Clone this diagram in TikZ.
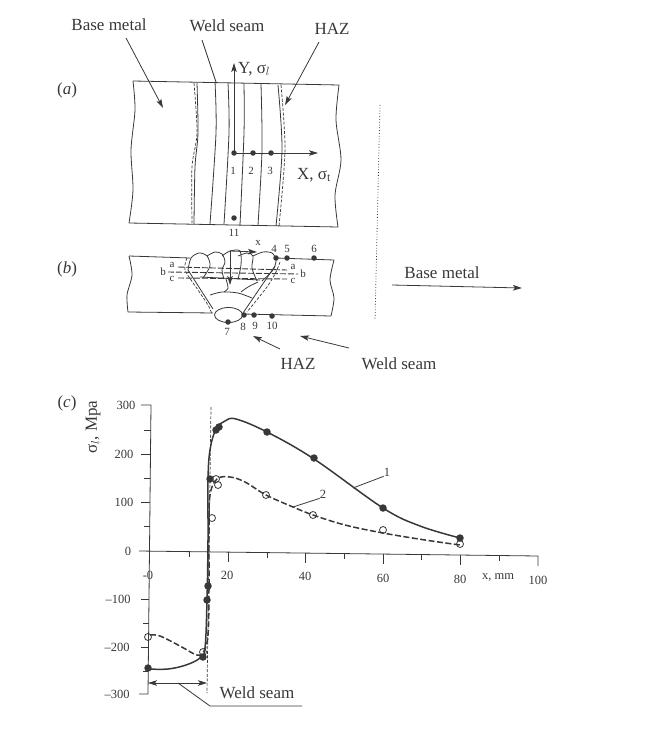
\documentclass[tikz,border=0pt]{standalone}
\usepackage{fontspec}
\setmainfont{Liberation Serif}
\usetikzlibrary{arrows.meta}
\definecolor{ink}{gray}{0.22}
\tikzstyle{arrow} = [-{Stealth[length=9pt,width=5.5pt,inset=2pt]},ink,line width=0.8pt]
\tikzstyle{bigtext} = [ink,inner sep=0pt,font=\fontsize{17}{19}\selectfont]
\tikzstyle{ticktext} = [ink,inner sep=0pt,font=\fontsize{12.5}{14}\selectfont]
\tikzstyle{smalltext} = [ink,inner sep=0pt,font=\fontsize{11}{12}\selectfont]
\tikzstyle{plate} = [ink,line width=0.8pt]
\tikzstyle{hazline} = [ink,line width=0.7pt,dash pattern=on 3pt off 1.6pt]
\tikzstyle{cutline} = [ink,line width=0.9pt,dash pattern=on 6pt off 2pt]
\tikzstyle{dot} = [circle,fill=ink,inner sep=0pt,minimum size=5.5pt]
\tikzstyle{bigdot} = [circle,fill=ink,inner sep=0pt,minimum size=7.5pt]
\tikzstyle{opendot} = [circle,draw=ink,fill=none,line width=0.8pt,inner sep=0pt,minimum size=7pt]
\tikzstyle{curve} = [ink,line width=1.5pt,smooth,tension=0.6]
\newcommand{\tickshort}{5}
\newcommand{\ticklong}{10}

\begin{document}
\begin{tikzpicture}[x=1pt,y=-1pt]
  \useasboundingbox (0,0) rectangle (645,749);

  % Panel labels
  \node [bigtext] (panelA) at (67,90)  {(\textit{a})};
  \node [bigtext] (panelB) at (67,269) {(\textit{b})};
  \node [bigtext] (panelC) at (67,403) {(\textit{c})};

  % Plate (a)
  \draw [plate] (133,81) -- (339,85);
  \draw [plate] (129,223) -- (338,227);
  \draw [plate] plot [smooth] coordinates {(133,81) (135,110) (131,150) (133,190) (129,223)};
  \draw [plate] plot [smooth] coordinates {(339,85) (336,120) (341,160) (335,195) (338,227)};

  % Passes
  \draw [hazline] plot [smooth] coordinates {(194,83) (197,133) (192,167) (192,223)};
  \draw [plate] plot [smooth] coordinates {(197,83) (198,133) (195,167) (194,224)};
  \draw [plate] plot [smooth] coordinates {(215,82) (216,133) (210,224)};
  \draw [plate] plot [smooth] coordinates {(228,83) (229,133) (224,224)};
  \draw [plate] plot [smooth] coordinates {(244,84) (244,133) (240,225)};
  \draw [plate] plot [smooth] coordinates {(261,84) (262,150) (258,225)};
  \draw [plate] plot [smooth] coordinates {(278,85) (282,150) (276,226)};
  \draw [hazline] plot [smooth] coordinates {(281,85) (285,150) (279,226)};

  % Axes of (a)
  \node [dot] (pt1) at (234,153) {};
  \node [dot] (pt2) at (253,153) {};
  \node [dot] (pt3) at (271,153) {};
  \node [dot] (pt11) at (234,218) {};
  \coordinate (yEnd) at (234,63);
  \coordinate (xEnd) at (318,153);
  \draw [arrow] (pt1.center) -- (yEnd);
  \draw [arrow] (pt1.center) -- (xEnd);
  \node [bigtext, anchor=west] (yLabel) at (238,69) {Y, σ$_{l}$};
  \node [bigtext, anchor=west] (xLabel) at (297,175) {X, σ$_{\mathrm{t}}$};
  \node [smalltext] (lab1) at (233,171) {1};
  \node [smalltext] (lab2) at (251,171) {2};
  \node [smalltext] (lab3) at (270,171) {3};
  \node [smalltext] (lab11) at (234,233) {11};

  % Top captions
  \node [bigtext] (baseTop) at (109,25) {Base metal};
  \node [bigtext] (weldTop) at (227,26) {Weld seam};
  \node [bigtext] (hazTop) at (332,29) {HAZ};
  \coordinate (baseTopTail) at (126,38);
  \coordinate (baseTopHead) at (163,108);
  \coordinate (weldTopTail) at (202,40);
  \coordinate (weldTopHead) at (216,82);
  \coordinate (hazTopTail) at (319,42);
  \coordinate (hazTopHead) at (285,105);
  \draw [arrow] (baseTopTail) -- (baseTopHead);
  \draw [plate] (weldTopTail) -- (weldTopHead);
  \draw [arrow] (hazTopTail) -- (hazTopHead);

  % Plate (b)
  \draw [plate] (129,256) -- (190,258);
  \draw [plate] (276,258) -- (334,260);
  \draw [plate] (128,312) -- (213,313);
  \draw [plate] (243,314) -- (331,316);
  \draw [plate] plot [smooth] coordinates {(129,256) (132,275) (127,295) (128,312)};
  \draw [plate] plot [smooth] coordinates {(334,260) (330,280) (334,298) (331,316)};

  % Beads
  \draw [plate] plot [smooth] coordinates {(188,270) (191,258) (199,253) (207,256) (210,266) (203,278)};
  \draw [plate] plot [smooth] coordinates {(207,256) (215,252) (222,254) (225,262) (222,270) (224,279)};
  \draw [plate] plot [smooth] coordinates {(222,256) (230,251) (240,251) (241,265) (238,279)};
  \draw [plate] plot [smooth] coordinates {(238,256) (247,253) (253,256) (252,268) (257,281)};
  \draw [plate] plot [smooth] coordinates {(253,256) (263,252) (272,253) (276,260) (273,270) (262,281)};
  \draw [plate] (188,270) -- (213,309);
  \draw [plate] (275,266) -- (243,313);
  \draw [plate] (200,277) -- (260,280);
  \draw [plate] plot [smooth] coordinates {(210,295) (222,292) (238,293) (252,298)};
  \draw [plate] plot [smooth] coordinates {(226,279) (228,288) (224,292)};
  \draw [plate] plot [smooth] coordinates {(241,292) (248,287) (258,282)};
  \draw [plate] (228.5,315) ellipse (14 and 7.5);
  \draw [hazline] plot [smooth] coordinates {(187,258) (185,270) (198,290) (208,305) (212,314)};
  \draw [hazline] plot [smooth] coordinates {(280,262) (276,272) (267,287) (247,312)};

  % Section lines
  \draw [cutline] (178,267) -- (287,270);
  \draw [cutline] (168,272) -- (298,274);
  \draw [cutline] (178,278) -- (287,279);
  \node [smalltext] (bLeft) at (163,272) {b};
  \node [smalltext] (aLeft) at (172,265) {a};
  \node [smalltext] (cLeft) at (172,279) {c};
  \node [smalltext] (aRight) at (293,267) {a};
  \node [smalltext] (cRight) at (293,281) {c};
  \node [smalltext] (bRight) at (303,274) {b};

  % Axes of (b)
  \coordinate (seamTop) at (230,251);
  \coordinate (seamBottom) at (230,285);
  \coordinate (xbEnd) at (257,252);
  \draw [arrow] (seamTop) -- (seamBottom);
  \draw [arrow] (seamTop) -- (xbEnd);
  \node [smalltext] (xbLabel) at (258,243) {x};

  % Points of (b)
  \node [dot] (pt4) at (276,258) {};
  \node [dot] (pt5) at (287,258) {};
  \node [dot] (pt6) at (314,258) {};
  \node [dot] (pt7) at (228,322) {};
  \node [dot] (pt8) at (244,315) {};
  \node [dot] (pt9) at (254,315) {};
  \node [dot] (pt10) at (272,316) {};
  \node [smalltext] (lab4) at (274,249) {4};
  \node [smalltext] (lab5) at (287,249) {5};
  \node [smalltext] (lab6) at (314,249) {6};
  \node [smalltext] (lab7) at (227,332) {7};
  \node [smalltext] (lab8) at (243,327) {8};
  \node [smalltext] (lab9) at (255,326) {9};
  \node [smalltext] (lab10) at (272,326) {10};

  % Captions of (b)
  \node [bigtext] (hazLow) at (298,364) {HAZ};
  \node [bigtext] (weldLow) at (399,364) {Weld seam};
  \node [bigtext] (baseRight) at (442,273) {Base metal};
  \coordinate (hazLowTail) at (280,349);
  \coordinate (hazLowHead) at (253,336);
  \coordinate (weldLowTail) at (349,348);
  \coordinate (weldLowHead) at (300,336);
  \coordinate (baseRightTail) at (392,285);
  \coordinate (baseRightHead) at (522,288);
  \draw [arrow] (hazLowTail) -- (hazLowHead);
  \draw [arrow] (weldLowTail) -- (weldLowHead);
  \draw [arrow] (baseRightTail) -- (baseRightHead);

  % Divider
  \coordinate (divTop) at (380,105);
  \coordinate (divBottom) at (375,320);
  \draw [ink, line width=0.8pt, dotted] (divTop) -- (divBottom);

  % Axes of (c)
  \draw [plate] (141,405) -- (151,405) -- (148,694) -- (139,694);
  \draw [plate] (139,551) -- (538,556) -- (538,566);
  \draw [plate] (144,430) -- (151,430);
  \draw [plate] (141,454) -- (151,454);
  \draw [plate] (144,478) -- (150,478);
  \draw [plate] (141,502) -- (150,502);
  \draw [plate] (144,526) -- (150,526);
  \draw [plate] (141,599) -- (149,599);
  \draw [plate] (143,623) -- (149,623);
  \draw [plate] (141,647) -- (149,647);
  \draw [plate] (143,671) -- (148,671);
  \draw [plate] (189,552) -- ++(0,\tickshort);
  \draw [plate] (228,552) -- ++(0,\ticklong);
  \draw [plate] (267,553) -- ++(0,\tickshort);
  \draw [plate] (305,553) -- ++(0,\ticklong);
  \draw [plate] (344,554) -- ++(0,\tickshort);
  \draw [plate] (383,554) -- ++(0,\ticklong);
  \draw [plate] (421,555) -- ++(0,\tickshort);
  \draw [plate] (460,555) -- ++(0,\ticklong);
  \draw [plate] (499,556) -- ++(0,\tickshort);

  % Tick labels
  \node [ticktext] (y300) at (126,405) {300};
  \node [ticktext] (y200) at (124,454) {200};
  \node [ticktext] (y100) at (124,502) {100};
  \node [ticktext] (y0) at (128,551) {0};
  \node [ticktext] (yM100) at (118,599) {–100};
  \node [ticktext] (yM200) at (117,647) {–200};
  \node [ticktext] (yM300) at (117,694) {–300};
  \node [ticktext] (x0) at (148,575) {-0};
  \node [ticktext] (x20) at (227,575) {20};
  \node [ticktext] (x40) at (305,576) {40};
  \node [ticktext] (x60) at (383,578) {60};
  \node [ticktext] (x80) at (460,579) {80};
  \node [ticktext] (xUnit) at (498,578) {x, mm};
  \node [ticktext] (x100) at (538,580) {100};
  \node [bigtext, rotate=90] (yTitle) at (93,427) {σ$_{l}$, Mpa};

  % Boundary of the seam
  \coordinate (edgeTop) at (211,407);
  \coordinate (edgeBottom) at (207,693);
  \draw [hazline] (edgeTop) -- (edgeBottom);

  % Curve 1
  \draw [curve] plot coordinates {(148,669) (168,669) (186,665) (200,658) (205,648) (207,600) (208,540) (208,480) (210,450) (216,429) (225,421) (236,419) (267,432) (314,459) (383,508) (420,526) (460,538)};
  \node [bigdot] (c1a) at (148,668) {};
  \node [bigdot] (c1b) at (203,657) {};
  \node [bigdot] (c1c) at (207,600) {};
  \node [bigdot] (c1d) at (208,586) {};
  \node [bigdot] (c1e) at (210,479) {};
  \node [bigdot] (c1f) at (216,430) {};
  \node [bigdot] (c1g) at (219,427) {};
  \node [bigdot] (c1h) at (267,432) {};
  \node [bigdot] (c1i) at (314,458) {};
  \node [bigdot] (c1j) at (383,508) {};
  \node [bigdot] (c1k) at (460,538) {};

  % Curve 2
  \draw [curve, dash pattern=on 6pt off 2.5pt] plot coordinates {(150,635) (160,636) (180,646) (197,655) (204,651) (208,635) (209,590) (209,530) (210,495) (217,479) (230,477) (245,482) (266,495) (293,507) (313,515) (345,525) (383,533) (425,540) (460,545)};
  \node [opendot] (c2a) at (148,637) {};
  \node [opendot] (c2b) at (203,652) {};
  \node [opendot] (c2c) at (212,518) {};
  \node [opendot] (c2d) at (218,485) {};
  \node [opendot] (c2e) at (216,479) {};
  \node [opendot] (c2f) at (266,495) {};
  \node [opendot] (c2g) at (313,515) {};
  \node [opendot] (c2h) at (383,530) {};
  \node [opendot] (c2i) at (460,544) {};

  % Curve labels
  \node [ticktext] (curveOne) at (387,472) {1};
  \node [ticktext] (curveTwo) at (323,494) {2};
  \coordinate (oneFoot) at (353,488);
  \coordinate (twoFoot) at (293,507);
  \draw [plate] (oneFoot) -- (curveOne.south west);
  \draw [plate] (twoFoot) -- (curveTwo.south west);

  % Seam width
  \coordinate (widthLeft) at (148,683);
  \coordinate (widthRight) at (207,683);
  \coordinate (widthFoot) at (178,683);
  \coordinate (widthKnee) at (210,706);
  \coordinate (widthEnd) at (302,706);
  \draw [arrow, {Stealth[length=9pt,width=5.5pt,inset=2pt]}-{Stealth[length=9pt,width=5.5pt,inset=2pt]}] (widthLeft) -- (widthRight);
  \draw [plate] (widthFoot) -- (widthKnee) -- (widthEnd);
  \node [bigtext] (weldWidth) at (257,693) {Weld seam};
\end{tikzpicture}
\end{document}
